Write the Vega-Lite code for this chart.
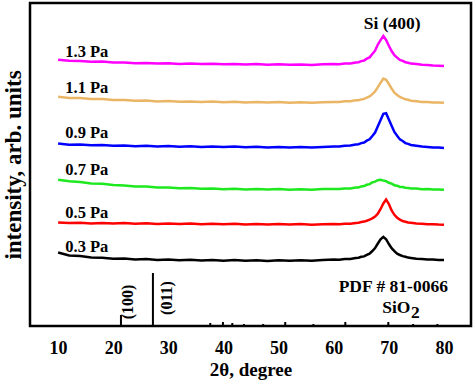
{
  "$schema": "https://vega.github.io/schema/vega-lite/v6.json",
  "width": 441,
  "height": 323,
  "autosize": {"type": "none"},
  "padding": {"left": 30, "top": 3, "right": 3, "bottom": 58},
  "background": "white",
  "config": {
    "view": {"stroke": "black", "strokeWidth": 2.5},
    "font": "Liberation Serif"
  },
  "datasets": {
    "xrd": [
      {"x":10,"a":266.3,"b":229.2,"c":182.4,"d":146.2,"e":103.6,"f":73.5},
      {"x":12,"a":265.2,"b":228.1,"c":181.3,"d":144.8,"e":102.9,"f":70.6},
      {"x":14,"a":265.0,"b":227.9,"c":181.6,"d":144.1,"e":103.3,"f":69.9},
      {"x":16,"a":264.2,"b":227.0,"c":180.7,"d":142.6,"e":102.6,"f":68.4},
      {"x":18,"a":264.4,"b":226.9,"c":181.0,"d":142.3,"e":103.1,"f":68.3},
      {"x":20,"a":263.4,"b":226.1,"c":180.3,"d":141.0,"e":102.4,"f":67.2},
      {"x":22,"a":263.6,"b":226.0,"c":180.6,"d":140.6,"e":102.9,"f":67.4},
      {"x":24,"a":262.8,"b":225.2,"c":179.8,"d":139.5,"e":102.2,"f":66.5},
      {"x":26,"a":263.1,"b":225.4,"c":180.2,"d":139.4,"e":102.7,"f":66.9},
      {"x":28,"a":262.5,"b":224.6,"c":179.5,"d":138.5,"e":102.0,"f":66.0},
      {"x":30,"a":262.8,"b":224.9,"c":179.9,"d":138.6,"e":102.5,"f":66.4},
      {"x":32,"a":262.1,"b":224.2,"c":179.2,"d":137.7,"e":101.9,"f":65.7},
      {"x":34,"a":262.5,"b":224.6,"c":179.7,"d":138.0,"e":102.4,"f":66.2},
      {"x":36,"a":261.9,"b":223.9,"c":179.0,"d":137.2,"e":101.8,"f":65.5},
      {"x":38,"a":262.3,"b":224.4,"c":179.5,"d":137.6,"e":102.3,"f":66.0},
      {"x":40,"a":261.7,"b":223.8,"c":178.9,"d":136.8,"e":101.7,"f":65.3},
      {"x":42,"a":262.1,"b":224.2,"c":179.4,"d":137.3,"e":102.2,"f":65.9},
      {"x":44,"a":261.5,"b":223.6,"c":178.8,"d":136.6,"e":101.6,"f":65.2},
      {"x":46,"a":261.9,"b":224.0,"c":179.3,"d":137.1,"e":102.1,"f":65.8},
      {"x":48,"a":261.3,"b":223.4,"c":178.6,"d":136.4,"e":101.5,"f":65.1},
      {"x":50,"a":261.8,"b":223.9,"c":179.1,"d":136.9,"e":102.0,"f":65.7},
      {"x":52,"a":261.2,"b":223.3,"c":178.5,"d":136.3,"e":101.4,"f":65.2},
      {"x":54,"a":261.6,"b":223.8,"c":179.0,"d":136.8,"e":101.9,"f":65.8},
      {"x":56,"a":261.1,"b":223.2,"c":178.4,"d":136.2,"e":101.3,"f":65.3},
      {"x":58,"a":261.7,"b":223.7,"c":178.9,"d":136.9,"e":101.8,"f":66.0},
      {"x":60,"a":261.9,"b":224.0,"c":179.5,"d":137.0,"e":101.9,"f":66.4},
      {"x":61,"a":261.7,"b":224.1,"c":179.6,"d":136.9,"e":101.7,"f":66.3},
      {"x":62,"a":262.4,"b":224.7,"c":180.2,"d":137.5,"e":102.2,"f":67.0},
      {"x":63,"a":262.5,"b":224.8,"c":180.4,"d":137.6,"e":102.3,"f":67.1},
      {"x":64,"a":263.6,"b":225.7,"c":181.5,"d":138.6,"e":103.0,"f":68.1},
      {"x":64.5,"a":263.8,"b":225.8,"c":181.8,"d":138.6,"e":103.3,"f":68.2},
      {"x":65,"a":264.9,"b":226.6,"c":182.9,"d":139.6,"e":104.0,"f":69.2},
      {"x":65.5,"a":265.4,"b":227.1,"c":183.5,"d":139.9,"e":104.4,"f":69.6},
      {"x":66,"a":267.3,"b":228.4,"c":185.3,"d":141.2,"e":105.3,"f":71.1},
      {"x":66.5,"a":268.6,"b":229.6,"c":186.7,"d":141.9,"e":106.4,"f":72.4},
      {"x":67,"a":272.0,"b":231.9,"c":190.0,"d":143.6,"e":107.6,"f":75.0},
      {"x":67.5,"a":275.3,"b":234.6,"c":193.5,"d":144.4,"e":109.4,"f":77.9},
      {"x":68,"a":281.4,"b":238.8,"c":199.8,"d":145.8,"e":112.3,"f":82.5},
      {"x":68.5,"a":285.8,"b":243.3,"c":205.9,"d":146.3,"e":117.0,"f":86.7},
      {"x":69,"a":290.0,"b":247.4,"c":212.2,"d":145.4,"e":122.5,"f":89.2},
      {"x":69.5,"a":286.0,"b":246.2,"c":212.8,"d":144.9,"e":126.4,"f":86.8},
      {"x":70,"a":280.2,"b":242.0,"c":206.5,"d":143.2,"e":122.0,"f":82.0},
      {"x":70.5,"a":275.0,"b":237.5,"c":200.3,"d":142.4,"e":115.5,"f":77.8},
      {"x":71,"a":270.8,"b":233.3,"c":194.0,"d":140.8,"e":111.2,"f":74.9},
      {"x":71.5,"a":268.4,"b":231.0,"c":190.2,"d":140.3,"e":108.3,"f":72.3},
      {"x":72,"a":266.0,"b":229.0,"c":186.6,"d":139.1,"e":106.4,"f":71.0},
      {"x":72.5,"a":265.1,"b":227.9,"c":185.0,"d":139.0,"e":105.0,"f":69.9},
      {"x":73,"a":263.8,"b":226.7,"c":182.9,"d":138.2,"e":104.3,"f":69.3},
      {"x":73.5,"a":263.3,"b":226.2,"c":182.1,"d":138.1,"e":103.5,"f":68.4},
      {"x":74,"a":262.4,"b":225.3,"c":181.0,"d":137.5,"e":103.3,"f":68.0},
      {"x":75,"a":261.9,"b":224.8,"c":180.3,"d":137.4,"e":102.4,"f":67.2},
      {"x":76,"a":261.2,"b":224.1,"c":179.4,"d":136.8,"e":102.3,"f":67.0},
      {"x":77,"a":261.0,"b":224.0,"c":179.1,"d":136.9,"e":101.7,"f":66.5},
      {"x":78,"a":260.5,"b":223.6,"c":178.5,"d":136.4,"e":101.8,"f":66.4},
      {"x":79,"a":260.3,"b":223.5,"c":178.4,"d":136.6,"e":101.4,"f":66.0},
      {"x":80,"a":260.0,"b":223.2,"c":178.1,"d":136.2,"e":101.3,"f":66.0}
    ],
    "sticks": [
      {"x":21.4,"h":11},{"x":27.2,"h":53},
      {"x":37.6,"h":3},{"x":39.9,"h":4},{"x":41.6,"h":3},{"x":43.7,"h":2},
      {"x":47.2,"h":2},{"x":51.2,"h":4},{"x":56.3,"h":2},{"x":62.1,"h":4},
      {"x":69.9,"h":4},{"x":74.4,"h":2},{"x":78.8,"h":2}
    ],
    "palabels": [
      {"x":11.3,"y":269,"t":"1.3 Pa"},
      {"x":11.3,"y":233,"t":"1.1 Pa"},
      {"x":11.3,"y":188,"t":"0.9 Pa"},
      {"x":11.3,"y":151,"t":"0.7 Pa"},
      {"x":11.3,"y":108,"t":"0.5 Pa"},
      {"x":11.3,"y":74,"t":"0.3 Pa"}
    ],
    "notes": [
      {"x":70.6,"y":297,"t":"Si (400)"},
      {"x":70.8,"y":34,"t":"PDF # 81-0066"}
    ],
    "hkl": [
      {"x":22.7,"y":24,"t":"(100)"},
      {"x":29.8,"y":28,"t":"(011)"}
    ]
  },
  "layer": [
    {
      "data": {"name": "xrd"},
      "transform": [{"fold": ["a","b","c","d","e","f"], "as": ["series","v"]}],
      "mark": {"type": "line", "strokeWidth": 2.5, "clip": true},
      "encoding": {
        "x": {"field": "x", "type": "quantitative",
              "scale": {"domain": [4.9, 84.9], "nice": false, "zero": false},
              "axis": {"values": [10,20,30,40,50,60,70,80], "domain": false, "ticks": false, "grid": false,
                       "labelFont": "Liberation Serif", "labelFontSize": 18, "labelFontWeight": "bold", "labelColor": "black",
                       "labelPadding": 13, "title": "2θ, degree", "titleFont": "Liberation Serif", "titleFontSize": 19,
                       "titleFontWeight": "bold", "titleColor": "black", "titlePadding": 3}},
        "y": {"field": "v", "type": "quantitative",
              "scale": {"domain": [0, 323], "nice": false, "zero": false},
              "axis": {"domain": false, "ticks": false, "labels": false, "grid": false,
                       "title": "intensity, arb. units", "titleFont": "Liberation Serif", "titleFontSize": 23,
                       "titleFontWeight": "bold", "titleColor": "black", "titlePadding": 5}},
        "color": {"field": "series", "type": "nominal",
                  "scale": {"domain": ["a","b","c","d","e","f"],
                            "range": ["#ff00ff","#eab666","#0000ff","#1ee81e","#ff0000","#000000"]},
                  "legend": null},
        "detail": {"field": "series"}
      }
    },
    {
      "data": {"name": "sticks"},
      "mark": {"type": "rule", "color": "black", "strokeWidth": 2},
      "encoding": {
        "x": {"field": "x", "type": "quantitative"},
        "y": {"field": "h", "type": "quantitative"},
        "y2": {"datum": 0}
      }
    },
    {
      "data": {"name": "palabels"},
      "mark": {"type": "text", "font": "Liberation Serif", "fontSize": 16.5, "fontWeight": "bold",
               "align": "left", "baseline": "alphabetic", "color": "black"},
      "encoding": {
        "x": {"field": "x", "type": "quantitative"},
        "y": {"field": "y", "type": "quantitative"},
        "text": {"field": "t"}
      }
    },
    {
      "data": {"name": "notes"},
      "mark": {"type": "text", "font": "Liberation Serif", "fontSize": 17.5, "fontWeight": "bold",
               "align": "center", "baseline": "alphabetic", "color": "black"},
      "encoding": {
        "x": {"field": "x", "type": "quantitative"},
        "y": {"field": "y", "type": "quantitative"},
        "text": {"field": "t"}
      }
    },
    {
      "data": {"values": [{"x": 73.9, "y": 13, "t": "SiO"}]},
      "mark": {"type": "text", "font": "Liberation Serif", "fontSize": 17.5, "fontWeight": "bold",
               "align": "right", "baseline": "alphabetic", "color": "black"},
      "encoding": {
        "x": {"field": "x", "type": "quantitative"},
        "y": {"field": "y", "type": "quantitative"},
        "text": {"field": "t"}
      }
    },
    {
      "data": {"values": [{"x": 74.0, "y": 8, "t": "2"}]},
      "mark": {"type": "text", "font": "Liberation Serif", "fontSize": 17.5, "fontWeight": "bold",
               "align": "left", "baseline": "alphabetic", "color": "black"},
      "encoding": {
        "x": {"field": "x", "type": "quantitative"},
        "y": {"field": "y", "type": "quantitative"},
        "text": {"field": "t"}
      }
    },
    {
      "data": {"name": "hkl"},
      "mark": {"type": "text", "font": "Liberation Serif", "fontSize": 16, "fontWeight": "bold",
               "align": "center", "baseline": "middle", "angle": 270, "color": "black"},
      "encoding": {
        "x": {"field": "x", "type": "quantitative"},
        "y": {"field": "y", "type": "quantitative"},
        "text": {"field": "t"}
      }
    }
  ]
}
